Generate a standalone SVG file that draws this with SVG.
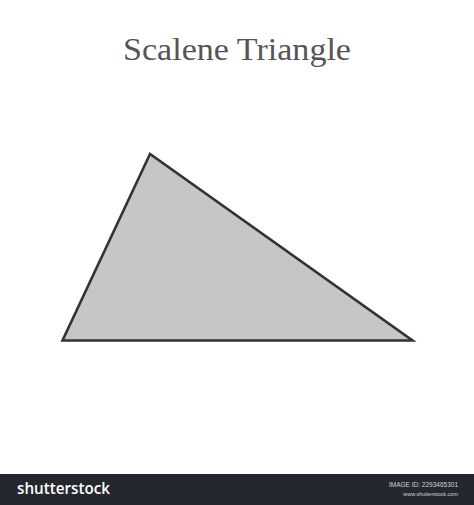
<svg xmlns="http://www.w3.org/2000/svg" width="474" height="505" viewBox="0 0 474 505">
<style>
.title{font-family:"Liberation Serif","DejaVu Serif",serif;font-size:31px;fill:#555555}
.tri{fill:#c6c6c6;stroke:#333333;stroke-width:2.6;stroke-linejoin:miter}
.brand{font-family:"Open Sans","Liberation Sans",sans-serif;font-weight:600;fill:#ffffff}
.small{font-family:"Liberation Sans","DejaVu Sans",sans-serif;fill:#cfd2d8}
</style>
<rect width="474" height="505" fill="#ffffff"/>
<g id="title"><text class="title" x="237" y="60" text-anchor="middle" textLength="228" lengthAdjust="spacingAndGlyphs">Scalene Triangle</text></g>
<g id="triangle"><polygon class="tri" points="150,154 62.5,340.5 412.5,340.5"/></g>
<g id="footer">
<rect x="0" y="474" width="474" height="31" fill="#25272e"/>
<text class="brand" x="17" y="494" font-size="17" textLength="93" lengthAdjust="spacingAndGlyphs">shutterstock</text>
<text class="small" x="458" y="487" font-size="6.5" text-anchor="end">IMAGE ID: 2293465301</text>
<text class="small" x="458" y="496" font-size="5.5" text-anchor="end">www.shutterstock.com</text>
</g>
</svg>
